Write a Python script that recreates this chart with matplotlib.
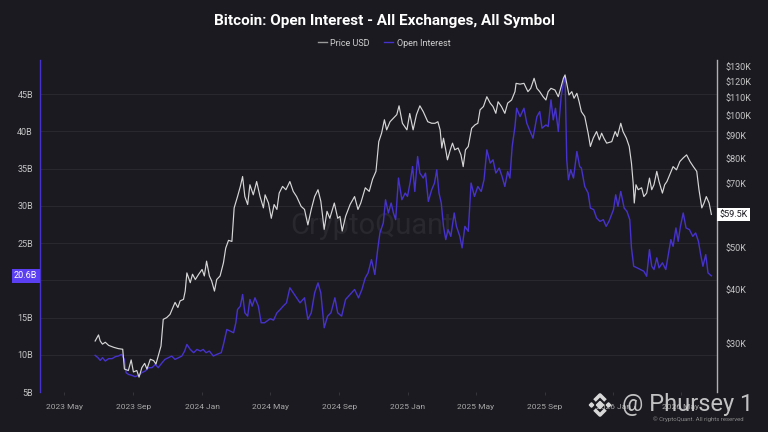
import pandas as pd
import matplotlib
matplotlib.use("Agg")
import matplotlib.pyplot as plt
import matplotlib.dates as mdates
import matplotlib.transforms as mtrans
from matplotlib.lines import Line2D
from matplotlib.patches import RegularPolygon
from matplotlib.ticker import FixedLocator, FuncFormatter, NullLocator

plt.rcParams['font.family'] = ['Roboto', 'DejaVu Sans']

BG = "#1b1a20"
PRICE_COLOR = "#d6d6d6"
OI_COLOR = "#4632cc"
TICK_COLOR = "#c4c4c4"

START = "2023-05-01"

# jours depuis 2023-05-01 / prix BTC en milliers de $
price_day = [55, 61, 64, 68, 73, 79, 88, 96, 104, 107,
             114, 119, 123, 129, 133, 138, 143, 147, 153, 159,
             163, 168, 172, 176, 182, 188, 192, 197, 202, 206,
             212, 215, 218, 224, 228, 233, 239, 245, 249, 253,
             258, 262, 267, 271, 277, 283, 287, 292, 298, 302,
             308, 313, 317, 321, 326, 330, 336, 342, 348, 354,
             357, 363, 368, 373, 378, 382, 388, 394, 401, 407,
             413, 421, 427, 433, 439, 445, 451, 456, 462, 467,
             472, 480, 486, 490, 494, 500, 508, 516, 522, 527,
             535, 542, 548, 554, 559, 564, 569, 573, 579, 585,
             591, 595, 601, 609, 614, 620, 626, 632, 638, 646,
             653, 659, 664, 668, 671, 674, 678, 681, 686, 690,
             694, 700, 705, 709, 713, 718, 724, 730, 735, 739,
             745, 751, 757, 762, 767, 771, 777, 783, 788, 795,
             801, 803, 810, 817, 824, 829, 835, 840, 845, 851,
             856, 860, 865, 872, 878, 883, 887, 890, 893, 897,
             902, 906, 911, 915, 919, 925, 931, 935, 940, 946,
             951, 955, 959, 964, 973, 979, 983, 989, 993, 999,
             1004, 1008, 1011, 1013, 1016, 1020, 1026, 1030, 1035, 1040,
             1044, 1048, 1053, 1057, 1063, 1067, 1071, 1076, 1082, 1088,
             1094, 1100, 1106, 1112, 1118, 1124, 1128, 1133, 1137, 1141,
             1146, 1150]
price_k = [30.5, 31.5, 30.5, 30.0, 30.3, 29.8, 29.5, 29.3, 29.2, 26.3,
           26.1, 27.6, 25.9, 26.1, 25.2, 26.5, 27.1, 26.3, 27.7, 27.5,
           27.0, 28.5, 29.7, 34.2, 34.5, 35.1, 36.1, 37.4, 36.4, 37.7,
           38.0, 39.7, 43.7, 41.5, 43.4, 42.2, 43.4, 44.5, 43.0, 46.5,
           43.0, 41.9, 39.7, 42.2, 43.0, 46.1, 49.8, 51.9, 51.6, 61.6,
           65.4, 69.0, 72.7, 65.4, 62.7, 69.6, 66.0, 70.8, 65.4, 61.6,
           66.0, 63.2, 58.3, 62.7, 61.1, 66.6, 69.0, 67.8, 70.8, 67.2,
           65.4, 62.1, 61.1, 56.3, 61.1, 65.4, 67.8, 63.8, 55.0, 60.5,
           58.3, 63.2, 58.3, 58.9, 54.5, 58.9, 62.7, 65.4, 61.1, 63.2,
           68.5, 67.2, 71.7, 74.7, 87.4, 91.4, 98.1, 93.0, 97.1, 98.9,
           100.8, 105.6, 96.3, 93.0, 101.4, 93.0, 100.8, 105.6, 102.4, 97.1,
           96.3, 96.3, 97.1, 93.0, 84.5, 89.0, 83.7, 79.4, 83.7, 86.7,
           83.7, 84.5, 81.5, 76.6, 83.7, 85.2, 93.8, 95.5, 96.3, 103.4,
           105.2, 110.8, 107.1, 105.2, 101.5, 107.9, 105.2, 101.5, 107.1, 108.9,
           113.8, 118.9, 118.4, 118.9, 113.8, 115.8, 122.1, 115.8, 113.8, 110.8,
           108.9, 113.8, 115.8, 114.8, 110.8, 116.8, 122.1, 124.3, 118.9, 111.8,
           113.8, 109.9, 112.8, 107.9, 102.4, 99.8, 91.4, 85.2, 89.0, 92.2,
           88.2, 91.4, 89.0, 86.7, 87.4, 92.2, 89.8, 96.3, 92.2, 89.0,
           85.2, 78.0, 70.3, 63.2, 69.6, 67.8, 68.5, 65.4, 66.6, 72.1,
           67.8, 69.6, 74.7, 70.8, 66.6, 69.6, 70.8, 73.4, 76.6, 75.3,
           78.7, 80.2, 81.5, 78.7, 76.6, 74.7, 67.8, 61.6, 63.2, 65.4,
           63.2, 59.5]

# jours depuis 2023-05-01 / open interest en milliards
oi_day = [55, 60, 64, 68, 73, 79, 85, 91, 96, 102,
          107, 110, 114, 120, 126, 132, 138, 144, 150, 156,
          162, 167, 174, 179, 185, 191, 197, 203, 209, 214,
          218, 224, 230, 236, 242, 247, 252, 258, 265, 271,
          279, 283, 289, 295, 301, 305, 308, 313, 317, 321,
          326, 330, 334, 339, 345, 350, 356, 360, 366, 372,
          378, 384, 389, 395, 401, 407, 413, 419, 427, 433,
          439, 445, 451, 456, 462, 468, 474, 481, 486, 493,
          500, 508, 516, 523, 529, 535, 540, 546, 552, 557,
          561, 567, 571, 576, 581, 585, 589, 594, 600, 606,
          610, 615, 619, 623, 628, 632, 638, 642, 647, 653,
          658, 662, 666, 670, 674, 678, 682, 687, 693, 697,
          703, 707, 712, 718, 723, 729, 735, 741, 746, 751,
          757, 762, 767, 773, 778, 783, 788, 792, 796, 801,
          804, 810, 817, 822, 828, 833, 840, 845, 849, 856,
          860, 865, 869, 873, 878, 883, 887, 890, 893, 896,
          900, 905, 911, 916, 919, 925, 931, 935, 941, 946,
          952, 958, 963, 968, 976, 980, 984, 989, 995, 1000,
          1005, 1008, 1012, 1018, 1024, 1030, 1035, 1040, 1044, 1048,
          1053, 1057, 1063, 1069, 1073, 1078, 1082, 1087, 1091, 1095,
          1100, 1105, 1111, 1117, 1122, 1127, 1131, 1135, 1140, 1144,
          1150]
oi_b = [9.92, 9.61, 9.25, 9.61, 9.16, 9.48, 9.48, 9.75, 9.83, 10.05,
        9.38, 7.60, 7.37, 7.24, 7.06, 7.24, 7.60, 7.82, 8.27, 8.27,
        8.71, 8.27, 8.94, 9.38, 9.61, 9.83, 9.38, 9.61, 9.83, 10.50,
        11.39, 10.72, 10.28, 10.72, 10.50, 10.72, 10.28, 10.50, 9.83, 10.05,
        10.28, 11.39, 13.40, 13.18, 12.96, 14.30, 16.09, 16.53, 18.10, 15.64,
        15.19, 17.43, 16.53, 17.65, 16.53, 14.30, 14.30, 14.52, 14.84, 14.65,
        15.64, 16.09, 16.53, 16.98, 19.00, 18.32, 17.65, 16.98, 17.65, 14.75,
        15.64, 18.32, 19.66, 18.32, 13.63, 15.19, 15.64, 17.65, 15.64, 15.19,
        17.43, 18.10, 18.77, 17.65, 18.77, 20.33, 21.00, 22.79, 20.78, 24.13,
        26.37, 27.71, 30.83, 29.05, 30.39, 29.05, 28.15, 33.74, 30.83, 31.73,
        31.27, 33.28, 35.29, 31.94, 36.64, 34.41, 33.74, 34.41, 30.60, 32.17,
        33.07, 34.85, 31.73, 30.39, 27.25, 25.47, 26.81, 25.91, 29.05, 27.25,
        25.91, 24.36, 27.25, 26.58, 33.07, 31.27, 32.61, 31.94, 33.51, 37.53,
        35.75, 36.19, 34.41, 35.08, 33.95, 32.61, 34.62, 33.74, 37.98, 40.66,
        43.12, 42.00, 43.12, 41.11, 39.99, 39.10, 42.00, 42.67, 40.44, 40.88,
        40.66, 44.24, 41.55, 43.12, 39.99, 44.68, 46.47, 47.36, 36.19, 33.51,
        34.85, 33.74, 37.31, 35.29, 35.08, 32.61, 31.73, 29.72, 29.49, 28.38,
        27.92, 28.15, 27.25, 27.92, 29.49, 31.50, 29.93, 31.94, 29.72, 29.26,
        28.15, 24.36, 21.89, 21.68, 21.45, 21.22, 20.55, 24.13, 21.89, 21.45,
        23.02, 21.68, 22.35, 21.45, 23.23, 25.47, 24.57, 27.04, 25.24, 27.25,
        29.05, 27.04, 26.81, 25.91, 26.37, 25.24, 23.46, 21.89, 23.46, 21.00,
        20.60]

x_ticks = ["2023-05-01", "2023-09-01", "2024-01-01", "2024-05-01", "2024-09-01",
           "2025-01-01", "2025-05-01", "2025-09-01", "2026-01-01", "2026-05-01"]
oi_ticks = [5, 10, 15, 20, 25, 30, 35, 40, 45]
price_ticks = [30, 40, 50, 60, 70, 80, 90, 100, 110, 120, 130]

start = pd.Timestamp(START)
price_dates = start + pd.to_timedelta(price_day, unit="D")
oi_dates = start + pd.to_timedelta(oi_day, unit="D")
price_usd = [p * 1000 for p in price_k]


# les étiquettes cachées par les boîtes de dernière valeur ne sont pas écrites
def fmt_oi(v, pos):
    if abs(v - 20) < 0.01:
        return ""
    return "%dB" % v


def fmt_price(v, pos):
    k = round(v / 1000)
    if k == 60:
        return ""
    return "$%dK" % k


fig = plt.figure(figsize=(7.68, 4.32), dpi=100, facecolor=BG)
ax = fig.add_axes([40 / 768, 40 / 432, 677 / 768, 332 / 432])
ax.set_facecolor(BG)
ax2 = ax.twinx()

ax.plot(oi_dates, oi_b, color=OI_COLOR, lw=1.0, zorder=3)
ax2.plot(price_dates, price_usd, color=PRICE_COLOR, lw=0.85, zorder=2)

# axe gauche (OI)
ax.set_ylim(5, 49.6)
ax.yaxis.set_major_locator(FixedLocator(oi_ticks))
ax.yaxis.set_major_formatter(FuncFormatter(fmt_oi))
ax.yaxis.grid(True, color="#2a2930", lw=0.7)
ax.set_axisbelow(True)
ax.tick_params(axis="y", length=0, pad=5, labelsize=6.5, labelcolor=TICK_COLOR)

# axe droit (prix, log)
ax2.set_yscale("log")
ax2.set_ylim(23300, 134500)
ax2.yaxis.set_major_locator(FixedLocator([t * 1000 for t in price_ticks]))
ax2.yaxis.set_minor_locator(NullLocator())
ax2.yaxis.set_major_formatter(FuncFormatter(fmt_price))
ax2.tick_params(axis="y", length=0, pad=6, labelsize=6.5, labelcolor=TICK_COLOR)

# axe x
ax.set_xlim(start - pd.Timedelta(days=43), start + pd.Timedelta(days=1160))
ax.xaxis.set_major_locator(FixedLocator(mdates.date2num(pd.to_datetime(x_ticks))))
ax.xaxis.set_major_formatter(mdates.DateFormatter("%Y %b"))
ax.tick_params(axis="x", length=2.5, width=0.6, color="#3a3940", pad=6,
               labelsize=6, labelcolor="#a8a8a8")

for a in (ax, ax2):
    for s in ("top", "bottom"):
        a.spines[s].set_visible(False)
ax.spines["right"].set_visible(False)
ax2.spines["left"].set_visible(False)
ax.spines["left"].set_color(OI_COLOR)
ax.spines["left"].set_linewidth(1.0)
ax2.spines["right"].set_color("#b0b0b0")
ax2.spines["right"].set_linewidth(1.0)

# étiquettes des dernières valeurs
trans_l = mtrans.blended_transform_factory(ax.transAxes, ax.transData)
ax.text(-0.004, oi_b[-1], "%.1fB" % oi_b[-1], transform=trans_l, ha="right", va="center",
        fontsize=6.5, color="white", zorder=10, clip_on=False,
        bbox=dict(boxstyle="square,pad=0.25", fc="#5b3ff2", ec="none"))
trans_r = mtrans.blended_transform_factory(ax2.transAxes, ax2.transData)
ax2.text(1.004, price_usd[-1], "$%.1fK" % price_k[-1], transform=trans_r, ha="left", va="center",
         fontsize=6.5, color="#1b1a20", zorder=10, clip_on=False,
         bbox=dict(boxstyle="square,pad=0.25", fc="white", ec="none"))

# filigrane CryptoQuant
ax.text(0.49, 0.5, "CryptoQuant", transform=ax.transAxes, ha="center", va="center",
        fontsize=21, color="#29282e", zorder=0)

# titre et légende
fig.text(0.5, 1 - 21 / 432, "Bitcoin: Open Interest - All Exchanges, All Symbol",
         ha="center", va="center", fontsize=11, fontweight="bold", color="white")
handles = [Line2D([], [], color="#9a9a9a", lw=1.0, label="Price USD"),
           Line2D([], [], color=OI_COLOR, lw=1.0, label="Open Interest")]
fig.legend(handles=handles, loc="center", bbox_to_anchor=(0.5, 1 - 43 / 432), ncol=2,
           frameon=False, fontsize=6.5, labelcolor="#cfcfcf", handlelength=1.0,
           handletextpad=0.4, columnspacing=1.6)

# filigrane Phursey
fig.text(909 / 1000, 1 - 419 / 432, "© CryptoQuant. All rights reserved", ha="center",
         va="center", fontsize=4.3, color="#8a8a8a")
logo = fig.add_axes([587 / 768, 1 - 418 / 432, 26 / 768, 26 / 432])
logo.set_xlim(-13, 13)
logo.set_ylim(-13, 13)
logo.axis("off")
wm = "#d8d8d8"
logo.add_patch(RegularPolygon((0, 0), 4, radius=3.6, color=wm))
logo.add_patch(RegularPolygon((-8.5, 0), 4, radius=2.2, color=wm))
logo.add_patch(RegularPolygon((8.5, 0), 4, radius=2.2, color=wm))
logo.plot([-5.5, 0, 5.5], [4.5, 10, 4.5], color=wm, lw=2.6, solid_capstyle="butt")
logo.plot([-5.5, 0, 5.5], [-4.5, -10, -4.5], color=wm, lw=2.6, solid_capstyle="butt")
fig.text(622 / 768, 1 - 405 / 432, "@ Phursey 1", ha="left", va="center",
         fontsize=17, color="#d4d4d4", alpha=0.9)

fig.savefig("out.png", dpi=100, facecolor=BG)
